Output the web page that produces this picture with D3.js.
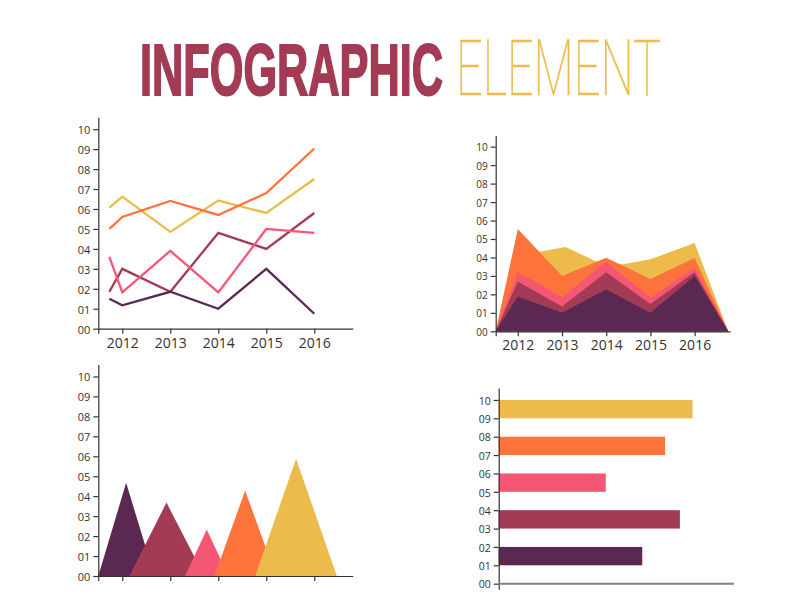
<!DOCTYPE html>
<html>
<head>
<meta charset="utf-8">
<script src="https://cdnjs.cloudflare.com/ajax/libs/d3/7.8.5/d3.min.js"></script>
<style>
  html, body { margin: 0; padding: 0; background: #fff; }
  text { font-family: 'Open Sans', sans-serif; fill: #333; }
  .axis path, .axis line { stroke: #333; stroke-width: 1.2; }
</style>
</head>
<body>
<div id="chart"></div>
<script>
var colors = { yellow: "#ecbb4c", orange: "#fd733c", pink: "#f45674", maroon: "#a33b55", dark: "#5a2850" };

var years = [2012, 2013, 2014, 2015, 2016];
var yTicks = d3.range(0, 11);

// line chart, x positions are in years
var lineXs = [2011.73, 2012, 2013, 2014, 2015, 2016];
var lineYellow = [6.07, 6.62, 4.85, 6.42, 5.8, 7.5];
var lineOrange = [5.0, 5.6, 6.4, 5.7, 6.8, 9.03];
var linePink = [3.6, 1.82, 3.9, 1.82, 5.0, 4.8];
var lineMaroon = [1.85, 3.0, 1.85, 4.8, 4.0, 5.8];
var lineDark = [1.5, 1.17, 1.85, 1.0, 3.0, 0.75];

// area chart
var areaXs = [2011.5, 2012, 2013, 2014, 2015, 2016, 2016.76];
var areaYellowXs = [2011.5, 2012, 2013.08, 2013.8, 2014.38, 2015, 2016, 2016.76];
var areaYellow = [0, 4.1, 4.57, 3.75, 3.63, 3.9, 4.78, 0];
var areaOrange = [0, 5.54, 3.0, 3.99, 2.83, 3.97, 0];
var areaPink = [0, 3.2, 1.84, 3.75, 1.82, 3.43, 0];
var areaMaroon = [0, 2.7, 1.35, 3.2, 1.48, 3.2, 0];
var areaDark = [0, 1.88, 1.0, 2.27, 1.0, 3.0, 0];

// triangle chart, each one is left foot, peak, right foot in years
var triXs = [
  [2011.5, 2012.08, 2012.67],
  [2012.15, 2012.92, 2013.71],
  [2013.31, 2013.76, 2014.21],
  [2013.92, 2014.56, 2015.2],
  [2014.77, 2015.62, 2016.47]
];
var triPeaks = [4.67, 3.68, 2.33, 4.28, 5.88];
var triColors = [colors.dark, colors.maroon, colors.pink, colors.orange, colors.yellow];

// bar chart, y band between two ticks and length in percent of the x axis
var barTop = [10, 8, 6, 4, 2];
var barBottom = [9, 7, 5, 3, 1];
var barValues = [82.4, 70.7, 45.5, 77, 61];
var barColors = [colors.yellow, colors.orange, colors.pink, colors.maroon, colors.dark];

var svg = d3.select("#chart")
            .append("svg")
            .attr("width", 800)
            .attr("height", 600);

// squeezes a title word with a transform so it fills left..right
function fitText(sel, left, right, baseline) {
  var w = sel.node().getComputedTextLength();
  sel.attr("transform", "translate(" + left + "," + baseline + ") scale(" + ((right - left) / w) + ",1)");
}

// title
svg.append("text")
    .style("font-family", "'Liberation Sans Narrow', 'Liberation Sans'")
    .style("font-weight", 700)
    .style("font-size", "73px")
    .style("fill", colors.maroon)
    .style("stroke", colors.maroon)
    .style("stroke-width", 2)
    .text("INFOGRAPHIC")
    .call(fitText, 140, 443, 94.5);

svg.append("text")
    .style("font-family", "Roboto")
    .style("font-weight", 100)
    .style("font-size", "77px")
    .style("fill", colors.yellow)
    .style("stroke", colors.yellow)
    .style("stroke-width", 0.5)
    .text("ELEMENT")
    .call(fitText, 456, 661, 95);

function drawYAxis(y, xPos, size) {
  var g = svg.append("g")
      .attr("class", "axis")
      .attr("transform", "translate(" + xPos + ",0)")
      .call(d3.axisLeft(y)
              .tickValues(yTicks)
              .tickFormat(d3.format("02d"))
              .tickSize(5)
              .tickSizeOuter(0)
              .tickPadding(3));
  g.selectAll("text").style("font-size", size + "px").attr("dy", "0.4em");
  return g;
}

function drawTimeAxis(x, yPos, showLabels, size) {
  var start = x.domain()[0];
  var g = svg.append("g")
      .attr("class", "axis")
      .attr("transform", "translate(0," + yPos + ")")
      .call(d3.axisBottom(x)
              .tickValues([start].concat(years))
              .tickFormat(d => (showLabels && d != start) ? d : "")
              .tickSize(5)
              .tickSizeOuter(0)
              .tickPadding(4));
  g.selectAll("text").style("font-size", size + "px");
  return g;
}

// ---- line chart
var x1 = d3.scaleLinear().domain([2011.5, 2016.8]).range([98.3, 352.7]);
var y1 = d3.scaleLinear().domain([0, 10.6]).range([328.7, 117.2]);
var line1 = d3.line().x((d, i) => x1(lineXs[i])).y(d => y1(d));

[[lineYellow, colors.yellow], [lineOrange, colors.orange], [lineMaroon, colors.maroon],
 [linePink, colors.pink], [lineDark, colors.dark]].forEach(s => {
  svg.append("path")
      .attr("d", line1(s[0]))
      .style("fill", "none")
      .style("stroke", s[1])
      .style("stroke-width", 2.3);
});
drawYAxis(y1, 98.3, 11);
drawTimeAxis(x1, 328.7, true, 14);

// ---- area chart
var x2 = d3.scaleLinear().domain([2011.5, 2016.8]).range([495.7, 730]);
var y2 = d3.scaleLinear().domain([0, 10.6]).range([331.3, 135.6]);

function areaPath(xs, vals) {
  return d3.area()
           .x((d, i) => x2(xs[i]))
           .y0(y2(0))
           .y1(d => y2(d))(vals);
}

[[areaYellowXs, areaYellow, colors.yellow], [areaXs, areaOrange, colors.orange],
 [areaXs, areaPink, colors.pink], [areaXs, areaMaroon, colors.maroon],
 [areaXs, areaDark, colors.dark]].forEach(s => {
  svg.append("path")
      .attr("d", areaPath(s[0], s[1]))
      .style("fill", s[2]);
});
drawYAxis(y2, 495.7, 10);
drawTimeAxis(x2, 331.3, true, 14);

// ---- triangles
var x3 = d3.scaleLinear().domain([2011.5, 2016.8]).range([98.3, 352.7]);
var y3 = d3.scaleLinear().domain([0, 10.6]).range([576, 364.5]);

triPeaks.forEach((peak, i) => {
  var area3 = d3.area()
                .x((d, j) => x3(triXs[i][j]))
                .y0(y3(0))
                .y1(d => y3(d));
  svg.append("path")
      .attr("d", area3([0, peak, 0]))
      .style("fill", triColors[i]);
});
drawYAxis(y3, 98.3, 11);
drawTimeAxis(x3, 576, false, 14);

// ---- bars
var x4 = d3.scaleLinear().domain([0, 100]).range([498.7, 734]);
var y4 = d3.scaleLinear().domain([-0.3, 10.65]).range([589.2, 388]);

svg.selectAll("rect.bar")
    .data(barValues)
    .enter()
    .append("rect")
    .attr("class", "bar")
    .attr("x", x4(0))
    .attr("y", (d, i) => y4(barTop[i]))
    .attr("width", d => x4(d) - x4(0))
    .attr("height", (d, i) => y4(barBottom[i]) - y4(barTop[i]))
    .style("fill", (d, i) => barColors[i]);

drawYAxis(y4, 498.7, 10.5);

svg.append("line")
    .attr("x1", x4(0))
    .attr("x2", x4(100))
    .attr("y1", y4(0))
    .attr("y2", y4(0))
    .style("stroke", "#808080")
    .style("stroke-width", 2);
</script>
</body>
</html>
